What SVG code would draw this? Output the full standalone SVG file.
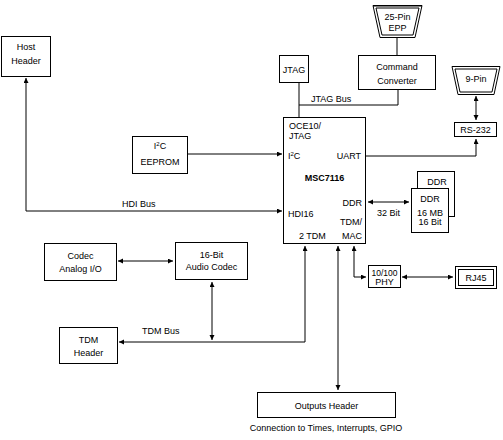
<svg xmlns="http://www.w3.org/2000/svg" width="503" height="440" viewBox="0 0 503 440">
<style>
  .box { fill: #fff; stroke: #000; stroke-width: 1; }
  .ln { fill: none; stroke: #000; stroke-width: 1; }
  .ar { fill: none; stroke: #000; stroke-width: 1; marker-end: url(#ah); }
  .ar2 { fill: none; stroke: #000; stroke-width: 1; marker-start: url(#ah); marker-end: url(#ah); }
  text { font-family: "Liberation Sans", Arial, sans-serif; font-size: 9px; fill: #000; }
  .c { text-anchor: middle; }
  .e { text-anchor: end; }
  .b { font-weight: bold; }
</style>
<defs>
  <marker id="ah" markerUnits="userSpaceOnUse" markerWidth="6" markerHeight="6" refX="5" refY="2.5" orient="auto-start-reverse">
    <path d="M0,0 L5,2.5 L0,5 z" fill="#000"/>
  </marker>
</defs>
<rect width="503" height="440" fill="#fff"/>

<g id="connectors">
  <path class="ar2" d="M282,211 H26 V78"/>
  <path class="ar" d="M188,154 H282"/>
  <path class="ln" d="M299,82 V117 M299,105 H398 V89"/>
  <path class="ln" d="M397,37 V55"/>
  <path class="ar2" d="M476,96 V120"/>
  <path class="ar" d="M366,156 H476 V139"/>
  <path class="ar2" d="M368,202 H409"/>
  <path class="ar2" d="M354,246 V277 H366"/>
  <path class="ar2" d="M402,277 H453"/>
  <path class="ar2" d="M338,246 V390"/>
  <path class="ar2" d="M305,246 V342 H119"/>
  <path class="ar2" d="M212,282 V340"/>
  <path class="ar2" d="M118,261 H173"/>
</g>

<g id="host-header">
  <rect class="box" x="1.5" y="36.5" width="49" height="40"/>
  <text class="c" x="26" y="50">Host</text>
  <text class="c" x="26" y="64">Header</text>
</g>

<g id="jtag">
  <rect class="box" x="279.5" y="55.5" width="29" height="27"/>
  <text class="c" x="294" y="73">JTAG</text>
</g>

<g id="epp">
  <polygon class="box" points="373,5.5 422,5.5 415,37.5 380,37.5"/>
  <polygon class="ln" points="376,8 419,8 413,35 382,35"/>
  <line class="ln" x1="373" y1="6" x2="422" y2="6" stroke-width="2"/>
  <text class="c" x="397.5" y="20">25-Pin</text>
  <text class="c" x="397.5" y="31">EPP</text>
</g>

<g id="command-converter">
  <rect class="box" x="358.5" y="55.5" width="77" height="34"/>
  <text class="c" x="397" y="70">Command</text>
  <text class="c" x="397" y="84">Converter</text>
</g>

<g id="nine-pin">
  <polygon class="box" points="452,66.5 500,66.5 494,94.5 458,94.5"/>
  <polygon class="ln" points="455,69 497,69 492,92 460,92"/>
  <line class="ln" x1="458" y1="94.5" x2="494" y2="94.5" stroke-width="2"/>
  <text class="c" x="476" y="82">9-Pin</text>
</g>

<g id="rs232">
  <rect class="box" x="454.5" y="122.5" width="42" height="14"/>
  <text class="c" x="475.5" y="133">RS-232</text>
</g>

<g id="i2c-eeprom">
  <rect class="box" x="132.5" y="136.5" width="55" height="37"/>
  <text class="c" x="160" y="149">I<tspan font-size="6" dy="-3">2</tspan><tspan dy="3">C</tspan></text>
  <text class="c" x="160" y="165">EEPROM</text>
</g>

<g id="msc7116">
  <rect class="box" x="283.5" y="117.5" width="82" height="126"/>
  <text x="289" y="129">OCE10/</text>
  <text x="289" y="139">JTAG</text>
  <text x="288" y="159">I<tspan font-size="6" dy="-3">2</tspan><tspan dy="3">C</tspan></text>
  <text class="e" x="361" y="159">UART</text>
  <text class="c b" x="324.5" y="181">MSC7116</text>
  <text class="e" x="362" y="206">DDR</text>
  <text x="288" y="217">HDI16</text>
  <text class="e" x="362" y="225">TDM/</text>
  <text x="299" y="239">2 TDM</text>
  <text class="e" x="362" y="239">MAC</text>
</g>

<g id="ddr">
  <rect class="box" x="417.5" y="171.5" width="37" height="45"/>
  <text class="c" x="437" y="185">DDR</text>
  <rect class="box" x="411.5" y="188.5" width="37" height="44"/>
  <text class="c" x="430" y="202">DDR</text>
  <text class="c" x="430" y="216">16 MB</text>
  <text class="c" x="430" y="225">16 Bit</text>
</g>

<g id="phy">
  <rect class="box" x="368.5" y="265.5" width="32" height="22"/>
  <text class="c" x="384.5" y="276" textLength="26" lengthAdjust="spacingAndGlyphs">10/100</text>
  <text class="c" x="384.5" y="284.5">PHY</text>
</g>

<g id="rj45">
  <rect class="box" x="455.5" y="266.5" width="41" height="22"/>
  <rect class="ln" x="458.5" y="269.5" width="35" height="16"/>
  <text class="c" x="476" y="280.5">RJ45</text>
</g>

<g id="codec-analog">
  <rect class="box" x="44.5" y="243.5" width="72" height="37"/>
  <text class="c" x="80.5" y="259">Codec</text>
  <text class="c" x="80.5" y="272">Analog I/O</text>
</g>

<g id="audio-codec">
  <rect class="box" x="175.5" y="242.5" width="72" height="37"/>
  <text class="c" x="211.5" y="258">16-Bit</text>
  <text class="c" x="211.5" y="270">Audio Codec</text>
</g>

<g id="tdm-header">
  <rect class="box" x="59.5" y="327.5" width="58" height="36"/>
  <text class="c" x="88.5" y="343">TDM</text>
  <text class="c" x="88.5" y="356">Header</text>
</g>

<g id="outputs-header">
  <rect class="box" x="257.5" y="392.5" width="138" height="25"/>
  <text class="c" x="326.5" y="409">Outputs Header</text>
</g>

<g id="labels">
  <text x="311" y="102">JTAG Bus</text>
  <text x="122" y="207">HDI Bus</text>
  <text x="377" y="216">32 Bit</text>
  <text x="142" y="334">TDM Bus</text>
  <text class="c" x="326" y="431">Connection to Times, Interrupts, GPIO</text>
</g>
</svg>
